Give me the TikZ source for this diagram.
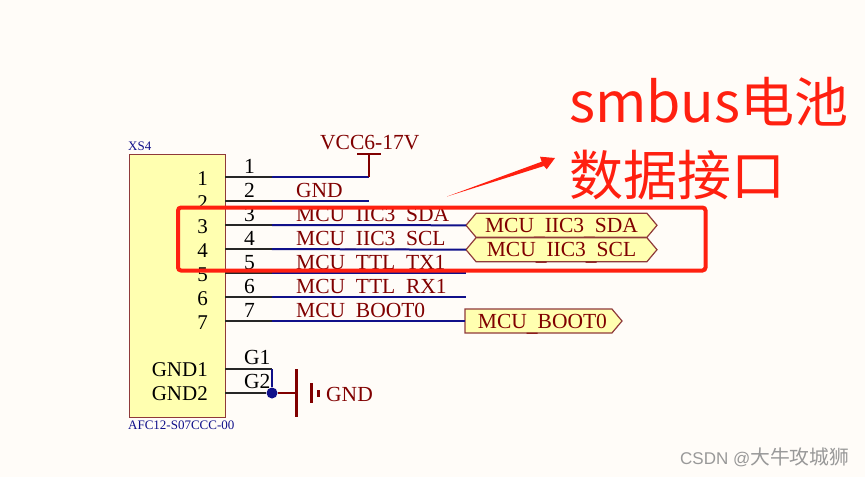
\documentclass[tikz,border=0pt]{standalone}
\usepackage{fontspec}
\setmainfont{Liberation Serif}
\newfontfamily\cjk{Noto Sans CJK SC}
\newfontfamily\wmfont{Liberation Sans}
\usetikzlibrary{positioning,shapes.symbols,calc}
\definecolor{sheetbg}{HTML}{FFFCF8}
\definecolor{partfill}{HTML}{FFFFB0}
\definecolor{partline}{HTML}{8F3A3A}
\definecolor{netred}{HTML}{800000}
\definecolor{wireblue}{HTML}{10108A}
\definecolor{markred}{HTML}{FF2010}
\def\PinLen{47pt}
\def\sch{\fontsize{21.5}{24}\selectfont}
\def\lowbar{\smash{\raisebox{-2.4pt}{\_}}}
\def\portbar{\smash{\raisebox{-3.4pt}{\_}}}
\tikzset{
	partbox/.style={draw=partline,fill=partfill,line width=1.3pt,inner sep=0,anchor=north west,minimum width=96.5pt,minimum height=263pt},
	pinline/.style={black!85,line width=2pt},
	netline/.style={wireblue,line width=2pt},
	pwrline/.style={netred,line width=2pt},
	pwrbar/.style={netred,line width=2.4pt},
	pinname/.style={inner sep=0,anchor=base east,font=\fontsize{21}{24}\selectfont,text=black},
	pindes/.style={inner sep=0,anchor=base west,font=\sch,text=black},
	netname/.style={inner sep=0,anchor=base west,font=\sch,text=netred},
	refname/.style={inner sep=0,anchor=base west,font=\fontsize{13}{15}\selectfont,text=wireblue},
	port/.style={shape=signal,draw=partline,fill=partfill,line width=1.2pt,inner sep=0,outer sep=0,anchor=west,font=\sch,text=netred,minimum height=24pt,signal pointer angle=100},
	bigmark/.style={inner sep=0,anchor=base west,font=\cjk\fontsize{54}{60}\selectfont,text=markred},
}
\begin{document}
\begin{tikzpicture}[x=1pt,y=-1pt]
	\fill[sheetbg] (0,0) rectangle (865,477);
	\useasboundingbox (0,0) rectangle (865,477);
	% 
	\node[partbox] (xs4) at (128.5,154) {};
	\node[refname] (xs4ref) at (128,150) {XS4};
	\node[refname] (xs4val) at (128,429) {AFC12-S07CCC-00};
	% 
	\foreach \n/\y in {1/177,2/201,3/225,4/249,5/273,6/297,7/321}{
		\coordinate (p\n) at (225,\y);
		\coordinate[right=\PinLen of p\n] (w\n);
		\node[pinname] (pn\n) at (208,\y+8) {\n};
		\node[pindes] (pd\n) at (244,\y-4) {\n};
	}
	\coordinate (pg1) at (225,369);
	\coordinate (pg2) at (225,393);
	\coordinate[right=\PinLen of pg1] (wg1);
	\node[pinname] (pngA) at (208,376.5) {GND1};
	\node[pinname] (pngB) at (208,400.5) {GND2};
	\node[pindes] (pdgA) at (244,364.5) {G1};
	\node[pindes] (pdgB) at (244,388.5) {G2};
	% 
	\node[netname] (ngnd) at (296,197) {GND};
	\node[netname] (nsda) at (296,221) {MCU\lowbar IIC3\lowbar SDA};
	\node[netname] (nscl) at (296,245) {MCU\lowbar IIC3\lowbar SCL};
	\node[netname] (ntx) at (296,269) {MCU\lowbar TTL\lowbar TX1};
	\node[netname] (nrx) at (296,293) {MCU\lowbar TTL\lowbar RX1};
	\node[netname] (nboot) at (296,317) {MCU\lowbar BOOT0};
	\node[netname] (nvcc) at (320,149) {VCC6-17V};
	% 
	\coordinate (e1) at (369,177);
	\coordinate (e2) at (369,201);
	\coordinate (e5) at (466,273);
	\coordinate (e6) at (466,297);
	\coordinate (vcc) at (369,153.5);
	\coordinate (vccl) at (357,153.5);
	\coordinate (vccr) at (381,153.5);
	% 
	\node[port,signal to=west and east,minimum width=191pt] (psda) at (466,225.3) {MCU\portbar IIC3\portbar SDA};
	\node[port,signal to=west and east,minimum width=191pt] (pscl) at (466,249.7) {MCU\portbar IIC3\portbar SCL};
	\node[port,signal to=east,minimum width=157pt] (pboot) at (465,321) {\hspace*{8pt}MCU\portbar BOOT0};
	% 
	\foreach \n in {1,...,7}
		\draw[pinline] (p\n) -- (w\n);
	\draw[pinline] (pg1) -- (wg1);
	\draw[netline] (w1) -- (e1);
	\draw[netline] (w2) -- (e2);
	\draw[netline] (w3) -- (psda.west);
	\draw[netline] (w4) -- (pscl.west);
	\draw[netline] (w5) -- (e5);
	\draw[netline] (w6) -- (e6);
	\draw[netline] (w7) -- (pboot.west);
	\draw[pwrline] (e1) -- (vcc);
	\draw[pwrline] (vccl) -- (vccr);
	% 
	\node[circle,fill=wireblue,inner sep=0,minimum size=11pt] (jn) at (272,393) {};
	\draw[pinline] (pg2) -- (jn);
	\draw[netline] (wg1) -- (jn);
	\coordinate (gbar) at (296.5,393);
	\draw[pwrline] (jn) -- (gbar);
	\draw[pwrbar] (296.5,369) -- (296.5,417);
	\draw[pwrbar] (311.5,383) -- (311.5,403);
	\draw[pwrbar] (318.5,390) -- (318.5,397);
	\node[netname] (ngndp) at (326,401) {GND};
	% 
	\draw[markred,line width=4pt,rounded corners=3pt] (178,207.5) rectangle (705.5,270.5);
	\fill[markred] (447,196.5) -- (541.7,161.7) -- (540,156.7) -- (555,158) -- (546.7,169.3) -- (544,166) -- cycle;
	\node[bigmark,font=\cjk\fontsize{55.5}{60}\selectfont] (marka) at (569,122.5) {smbus};
	\node[bigmark,right=0pt of marka.base east,anchor=base west] (markc) {电池};
	\node[bigmark] (markb) at (569,195) {数据接口};
	\node[inner sep=0,anchor=base west,text=black!40,font=\wmfont\fontsize{17}{20}\selectfont] (wmark) at (680,464) {CSDN @{\cjk\fontsize{19.8}{20}\selectfont 大牛攻城狮}};
\end{tikzpicture}
\end{document}
